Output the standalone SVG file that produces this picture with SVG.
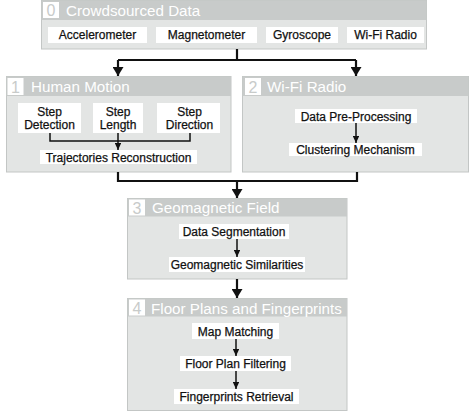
<svg xmlns="http://www.w3.org/2000/svg" width="474" height="412" viewBox="0 0 474 412">
<defs>
<style>
.body{fill:#e3e5e4;stroke:#c3c6c5;stroke-width:1}
.bar{fill:#c8cbca}
.sq{fill:#ffffff}
.num{font-family:"Liberation Sans",Arial,sans-serif;font-size:16px;fill:#c8cbca;text-anchor:middle}
.ttl{font-family:"Liberation Sans",Arial,sans-serif;font-size:15.2px;fill:#ffffff}
.item{fill:#ffffff}
.lbl{font-family:"Liberation Sans",Arial,sans-serif;font-size:12px;fill:#111111;stroke:#111111;stroke-width:0.25;text-anchor:middle}
.main{fill:none;stroke:#111111;stroke-width:2.2}
.thin{fill:none;stroke:#111111;stroke-width:1.5}
</style>
<marker id="big" viewBox="0 0 10 10" refX="10" refY="5" markerUnits="userSpaceOnUse" markerWidth="9" markerHeight="11" orient="auto" preserveAspectRatio="none">
<path d="M0,0 L10,5 L0,10 z" fill="#111111"/>
</marker>
<marker id="small" viewBox="0 0 10 10" refX="10" refY="5" markerUnits="userSpaceOnUse" markerWidth="7" markerHeight="6.5" orient="auto" preserveAspectRatio="none">
<path d="M0,0 L10,5 L0,10 z" fill="#111111"/>
</marker>
</defs>
<rect width="474" height="412" fill="#ffffff"/>

<g id="node0">
<rect class="body" x="41.5" y="0.5" width="385" height="48.5"/>
<rect class="bar" x="41.5" y="0.5" width="385" height="19.5"/>
<rect class="sq" x="43" y="2" width="16" height="16"/>
<text class="num" x="51" y="16">0</text>
<text class="ttl" x="66" y="16">Crowdsourced Data</text>
<rect class="item" x="48" y="27" width="99" height="16"/>
<text class="lbl" x="97.5" y="39.3">Accelerometer</text>
<rect class="item" x="156" y="27" width="101" height="16"/>
<text class="lbl" x="206.5" y="39.3">Magnetometer</text>
<rect class="item" x="266" y="27" width="72" height="16"/>
<text class="lbl" x="302" y="39.3">Gyroscope</text>
<rect class="item" x="347" y="27" width="77" height="16"/>
<text class="lbl" x="385.5" y="39.3">Wi-Fi Radio</text>
</g>

<g id="node1">
<rect class="body" x="6.5" y="76.5" width="224.5" height="95.5"/>
<rect class="bar" x="6.5" y="76.5" width="224.5" height="19.5"/>
<rect class="sq" x="7.5" y="78" width="16" height="17"/>
<text class="num" x="15.5" y="92.5">1</text>
<text class="ttl" x="31" y="92">Human Motion</text>
<rect class="item" x="18" y="103" width="63" height="30"/>
<text class="lbl" x="49.5" y="115.5">Step</text>
<text class="lbl" x="49.5" y="128.5">Detection</text>
<rect class="item" x="93" y="103" width="50" height="30"/>
<text class="lbl" x="118" y="115.5">Step</text>
<text class="lbl" x="118" y="128.5">Length</text>
<rect class="item" x="157" y="103" width="63" height="30"/>
<text class="lbl" x="189.5" y="115.5">Step</text>
<text class="lbl" x="189.5" y="128.5">Direction</text>
<rect class="item" x="40" y="150" width="157" height="14"/>
<text class="lbl" x="118.5" y="161.5">Trajectories Reconstruction</text>
</g>

<g id="node2">
<rect class="body" x="242.5" y="76.5" width="226" height="95.5"/>
<rect class="bar" x="242.5" y="76.5" width="226" height="19.5"/>
<rect class="sq" x="245" y="78" width="16" height="17"/>
<text class="num" x="253" y="92.5">2</text>
<text class="ttl" x="267" y="92">Wi-Fi Radio</text>
<rect class="item" x="295" y="109" width="122" height="14"/>
<text class="lbl" x="356" y="120.5">Data Pre-Processing</text>
<rect class="item" x="289" y="143" width="133" height="13"/>
<text class="lbl" x="355.5" y="154">Clustering Mechanism</text>
</g>

<g id="node3">
<rect class="body" x="127.5" y="198.5" width="219.5" height="80.5"/>
<rect class="bar" x="127.5" y="198.5" width="219.5" height="18"/>
<rect class="sq" x="129" y="199.5" width="16" height="16"/>
<text class="num" x="137" y="213.5">3</text>
<text class="ttl" x="152" y="213">Geomagnetic Field</text>
<rect class="item" x="179" y="224" width="110" height="15"/>
<text class="lbl" x="234" y="236">Data Segmentation</text>
<rect class="item" x="169" y="257" width="136" height="15"/>
<text class="lbl" x="237" y="269">Geomagnetic Similarities</text>
</g>

<g id="node4">
<rect class="body" x="127.5" y="298.5" width="219.5" height="112"/>
<rect class="bar" x="127.5" y="298.5" width="219.5" height="18"/>
<rect class="sq" x="129" y="299.5" width="16" height="16"/>
<text class="num" x="137" y="314">4</text>
<text class="ttl" x="151" y="314">Floor Plans and Fingerprints</text>
<rect class="item" x="192" y="323" width="87" height="16"/>
<text class="lbl" x="235.5" y="335.5">Map Matching</text>
<rect class="item" x="180" y="356" width="111" height="15"/>
<text class="lbl" x="235.5" y="368">Floor Plan Filtering</text>
<rect class="item" x="174" y="389" width="125" height="15"/>
<text class="lbl" x="236.5" y="401">Fingerprints Retrieval</text>
</g>

<g id="connectors">
<path class="main" d="M237,49 V60"/>
<path class="main" d="M118,60 H356"/>
<path class="main" d="M118,60 V76" marker-end="url(#big)"/>
<path class="main" d="M356,60 V76" marker-end="url(#big)"/>
<path class="thin" d="M50,133 V141 H190 V133"/>
<path class="thin" d="M118,133 V150" marker-end="url(#small)"/>
<path class="thin" d="M356,123 V143" marker-end="url(#small)"/>
<path class="main" d="M118,172 V181 H357 V172"/>
<path class="main" d="M237,181 V198" marker-end="url(#big)"/>
<path class="thin" d="M237,239 V257" marker-end="url(#small)"/>
<path class="main" d="M237,279 V298" marker-end="url(#big)"/>
<path class="thin" d="M236,339 V356" marker-end="url(#small)"/>
<path class="thin" d="M236,371 V389" marker-end="url(#small)"/>
</g>
</svg>
